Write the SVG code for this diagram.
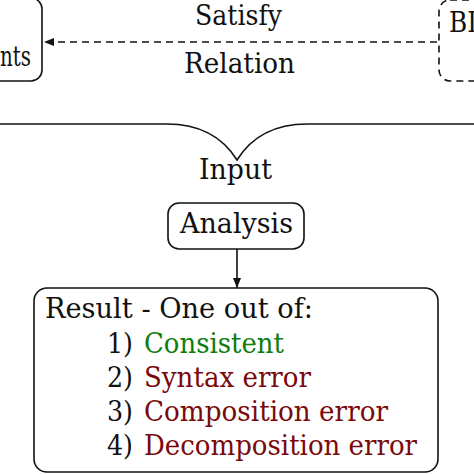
<svg xmlns="http://www.w3.org/2000/svg" width="474" height="474" viewBox="0 0 474 474">
<style>
text{font-family:"DejaVu Serif","Liberation Serif",serif;fill:#111;font-size:27px}
.box{fill:#fff;stroke:#111;stroke-width:1.6}
.dash{stroke-dasharray:7 5}
.ln{fill:none;stroke:#111;stroke-width:1.6}
.g{fill:#0e7d0e}
.r{fill:#7a0a0a}
</style>
<defs>
<marker id="ah" viewBox="0 0 10 8" refX="10" refY="4" markerWidth="10" markerHeight="8" markerUnits="userSpaceOnUse" orient="auto">
<path d="M0,0 L10,4 L0,8 z" fill="#111"/>
</marker>
</defs>
<rect width="474" height="474" fill="#fff"/>
<g id="req">
<rect class="box" x="-20" y="-2" width="62" height="83" rx="11"/>
<text x="0" y="66" textLength="31" lengthAdjust="spacingAndGlyphs">nts</text>
</g>
<g id="bip">
<rect class="box dash" x="439" y="0" width="60" height="81" rx="11"/>
<text x="449" y="32" textLength="28" lengthAdjust="spacingAndGlyphs">BI</text>
</g>
<g id="brace">
<path class="ln" stroke-width="2" d="M-2,124 H167 C198,124 222,136 237,160 C252,136 276,124 307,124 H476"/>
<text x="199" y="179" textLength="73" lengthAdjust="spacingAndGlyphs">Input</text>
</g>
<g id="analysis">
<rect class="box" x="168" y="203" width="136" height="46" rx="11"/>
<text x="180" y="233" textLength="113" lengthAdjust="spacingAndGlyphs">Analysis</text>
</g>
<g id="result">
<rect class="box" x="34" y="288" width="404" height="184" rx="13"/>
<text x="45" y="318" textLength="268" lengthAdjust="spacingAndGlyphs">Result - One out of:</text>
<text x="107" y="353" textLength="26" lengthAdjust="spacingAndGlyphs">1)</text>
<text x="144" y="353" class="g" textLength="140" lengthAdjust="spacingAndGlyphs">Consistent</text>
<text x="107" y="387" textLength="26" lengthAdjust="spacingAndGlyphs">2)</text>
<text x="144" y="387" class="r" textLength="167" lengthAdjust="spacingAndGlyphs">Syntax error</text>
<text x="107" y="421" textLength="26" lengthAdjust="spacingAndGlyphs">3)</text>
<text x="144" y="421" class="r" textLength="244" lengthAdjust="spacingAndGlyphs">Composition error</text>
<text x="107" y="455" textLength="26" lengthAdjust="spacingAndGlyphs">4)</text>
<text x="144" y="455" class="r" textLength="273" lengthAdjust="spacingAndGlyphs">Decomposition error</text>
</g>
<g id="connectors">
<path class="ln dash" d="M437,42 H44" marker-end="url(#ah)"/>
<text x="195" y="25" textLength="87" lengthAdjust="spacingAndGlyphs">Satisfy</text>
<text x="184" y="73" textLength="111" lengthAdjust="spacingAndGlyphs">Relation</text>
<path class="ln" d="M237,249 V288" marker-end="url(#ah)"/>
</g>
</svg>
